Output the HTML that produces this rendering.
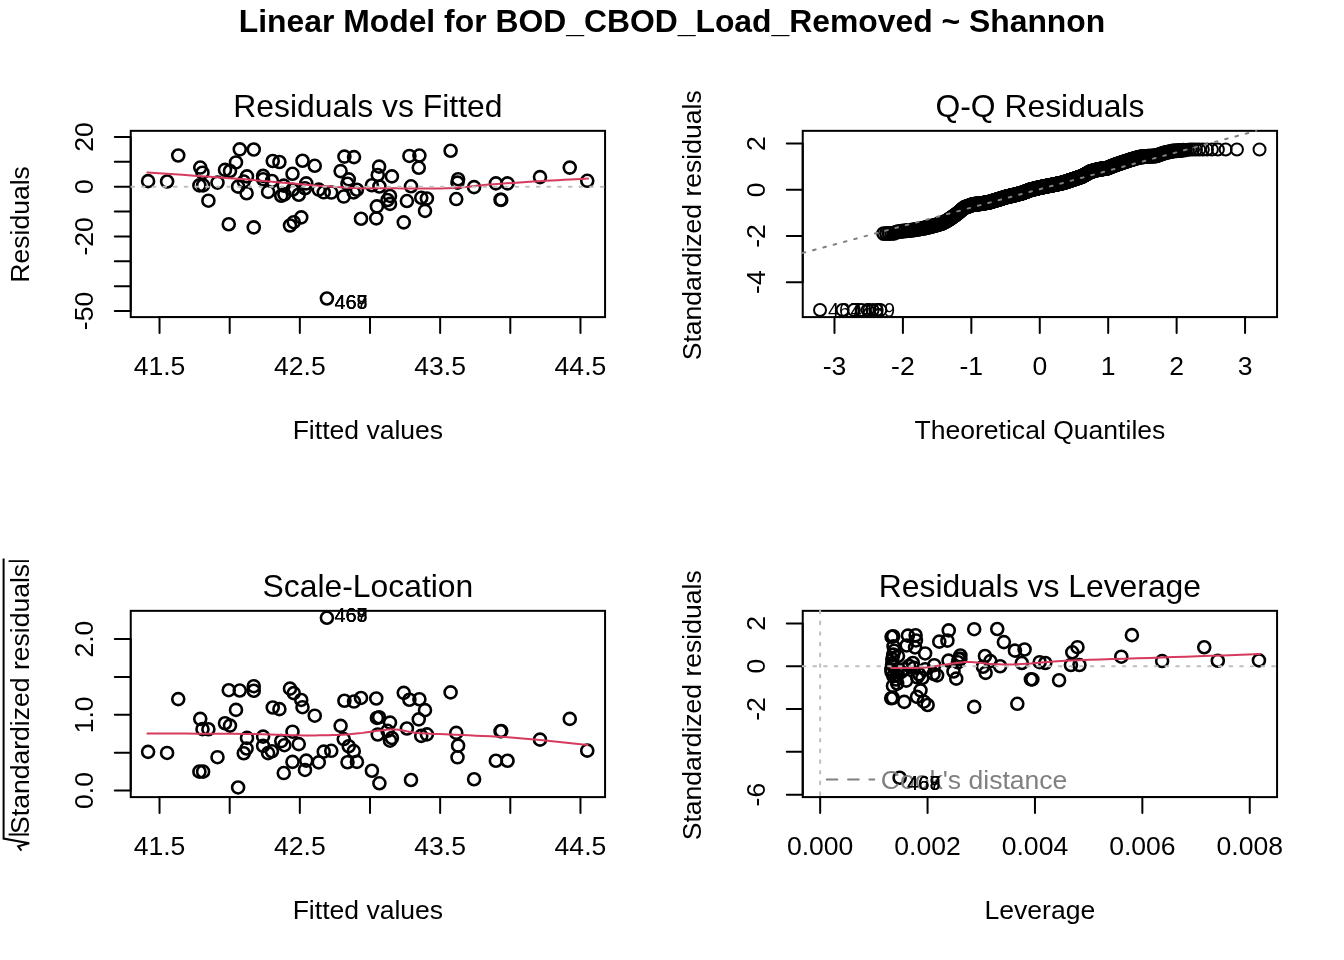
<!DOCTYPE html>
<html><head><meta charset="utf-8"><style>
html,body{margin:0;padding:0;background:#fff;}
svg{display:block;will-change:transform;}
text{font-family:"Liberation Sans",sans-serif;}
.t{font-size:26.56px;}
.m{font-size:31.87px;}
.b{font-size:31.87px;font-weight:bold;}
.s{font-size:19.92px;}
</style></head><body>
<svg width="1344" height="960" viewBox="0 0 1344 960">
<rect width="1344" height="960" fill="#fff"/>
<text x="672" y="32" class="b" text-anchor="middle">Linear Model for BOD_CBOD_Load_Removed ~ Shannon</text>
<rect x="130.74" y="130.84" width="474.32" height="186.26" fill="none" stroke="#000" stroke-width="2"/>
<path d="M159.53 317.1H580.46M159.53 317.1V333.04M229.69 317.1V333.04M299.84 317.1V333.04M370 317.1V333.04M440.15 317.1V333.04M510.3 317.1V333.04M580.46 317.1V333.04M130.74 136.88V311M114.8 136.88H130.74M114.8 161.76H130.74M114.8 186.63H130.74M114.8 211.5H130.74M114.8 236.38H130.74M114.8 261.25H130.74M114.8 286.13H130.74M114.8 311H130.74" fill="none" stroke="#000" stroke-width="2" stroke-linecap="round"/>
<text x="159.53" y="374.8" class="t" text-anchor="middle">41.5</text>
<text x="299.84" y="374.8" class="t" text-anchor="middle">42.5</text>
<text x="440.15" y="374.8" class="t" text-anchor="middle">43.5</text>
<text x="580.46" y="374.8" class="t" text-anchor="middle">44.5</text>
<text transform="translate(92.8,136.88) rotate(-90)" class="t" text-anchor="middle">20</text>
<text transform="translate(92.8,186.63) rotate(-90)" class="t" text-anchor="middle">0</text>
<text transform="translate(92.8,236.38) rotate(-90)" class="t" text-anchor="middle">-20</text>
<text transform="translate(92.8,311) rotate(-90)" class="t" text-anchor="middle">-50</text>
<text x="367.9" y="116.9" class="m" text-anchor="middle">Residuals vs Fitted</text>
<text x="367.9" y="438.8" class="t" text-anchor="middle">Fitted values</text>
<text transform="translate(28.8,224.4) rotate(-90)" class="t" text-anchor="middle">Residuals</text>
<g fill="none" stroke="#000" stroke-width="2.6"><circle cx="148.1" cy="181.16" r="6.0"/><circle cx="167.1" cy="181.47" r="6.0"/><circle cx="178.25" cy="155.53" r="6.0"/><circle cx="200.25" cy="167.56" r="6.0"/><circle cx="202.5" cy="172.68" r="6.0"/><circle cx="199.4" cy="185.4" r="6.0"/><circle cx="203.1" cy="185.39" r="6.0"/><circle cx="217.5" cy="182.59" r="6.0"/><circle cx="208.4" cy="200.68" r="6.0"/><circle cx="225" cy="169.84" r="6.0"/><circle cx="230" cy="171" r="6.0"/><circle cx="236" cy="162.44" r="6.0"/><circle cx="239.75" cy="149.35" r="6.0"/><circle cx="228.75" cy="224.28" r="6.0"/><circle cx="238.1" cy="186.67" r="6.0"/><circle cx="247" cy="176.39" r="6.0"/><circle cx="246.6" cy="193.25" r="6.0"/><circle cx="253.75" cy="149.49" r="6.0"/><circle cx="272.75" cy="160.97" r="6.0"/><circle cx="279.4" cy="161.98" r="6.0"/><circle cx="302.5" cy="160.76" r="6.0"/><circle cx="314.75" cy="165.79" r="6.0"/><circle cx="344.4" cy="156.58" r="6.0"/><circle cx="354" cy="157.12" r="6.0"/><circle cx="340.6" cy="171.11" r="6.0"/><circle cx="348.75" cy="179.42" r="6.0"/><circle cx="347.5" cy="183.74" r="6.0"/><circle cx="292.5" cy="173.8" r="6.0"/><circle cx="243.75" cy="181.54" r="6.0"/><circle cx="263.1" cy="175.87" r="6.0"/><circle cx="263.1" cy="179.28" r="6.0"/><circle cx="271.9" cy="180.97" r="6.0"/><circle cx="268.1" cy="191.89" r="6.0"/><circle cx="283.75" cy="185.58" r="6.0"/><circle cx="281.25" cy="195.79" r="6.0"/><circle cx="284.4" cy="194.34" r="6.0"/><circle cx="292.5" cy="189.73" r="6.0"/><circle cx="298.75" cy="194.72" r="6.0"/><circle cx="306.25" cy="183.39" r="6.0"/><circle cx="305" cy="188.26" r="6.0"/><circle cx="318.75" cy="189.62" r="6.0"/><circle cx="323.75" cy="192.31" r="6.0"/><circle cx="331.25" cy="192.56" r="6.0"/><circle cx="343.75" cy="196.56" r="6.0"/><circle cx="353.75" cy="192.45" r="6.0"/><circle cx="356.9" cy="189.73" r="6.0"/><circle cx="253.75" cy="227.39" r="6.0"/><circle cx="290" cy="225.48" r="6.0"/><circle cx="293.75" cy="222.19" r="6.0"/><circle cx="301.25" cy="217.35" r="6.0"/><circle cx="361" cy="218.74" r="6.0"/><circle cx="379.1" cy="166.67" r="6.0"/><circle cx="377.75" cy="175" r="6.0"/><circle cx="391.9" cy="176.42" r="6.0"/><circle cx="371.9" cy="185.27" r="6.0"/><circle cx="379.4" cy="186.52" r="6.0"/><circle cx="390" cy="195.95" r="6.0"/><circle cx="387.5" cy="200" r="6.0"/><circle cx="390" cy="203.92" r="6.0"/><circle cx="376.9" cy="206.38" r="6.0"/><circle cx="376.25" cy="218.37" r="6.0"/><circle cx="403.75" cy="222.37" r="6.0"/><circle cx="409.4" cy="155.93" r="6.0"/><circle cx="419.4" cy="155.55" r="6.0"/><circle cx="418.75" cy="167.8" r="6.0"/><circle cx="411" cy="186.3" r="6.0"/><circle cx="406.9" cy="201.04" r="6.0"/><circle cx="421.25" cy="197.8" r="6.0"/><circle cx="426.9" cy="198.46" r="6.0"/><circle cx="425" cy="210.83" r="6.0"/><circle cx="450.6" cy="150.72" r="6.0"/><circle cx="458.1" cy="179.21" r="6.0"/><circle cx="457.5" cy="182.62" r="6.0"/><circle cx="456.25" cy="199.06" r="6.0"/><circle cx="474.1" cy="187.16" r="6.0"/><circle cx="495.9" cy="183.42" r="6.0"/><circle cx="507.5" cy="183.42" r="6.0"/><circle cx="501.25" cy="199.88" r="6.0"/><circle cx="500.5" cy="199.75" r="6.0"/><circle cx="540" cy="177.08" r="6.0"/><circle cx="569.75" cy="167.62" r="6.0"/><circle cx="587.25" cy="180.82" r="6.0"/><circle cx="326.9" cy="298.47" r="6.0"/></g>
<polyline points="147.4,172.4 159.09,173.23 170.75,174.04 182.38,174.85 194.03,175.66 205.7,176.48 217.44,177.32 229.26,178.19 241.2,179.1 253.63,180.1 266.68,181.22 280.03,182.39 293.34,183.56 306.26,184.69 318.47,185.73 329.63,186.61 339.4,187.3 347.59,187.77 354.44,188.05 360.25,188.19 365.34,188.24 370.02,188.22 374.58,188.18 379.34,188.16 384.6,188.2 390.31,188.28 396.16,188.37 402.06,188.45 407.92,188.52 413.66,188.57 419.19,188.61 424.43,188.62 429.3,188.6 433.73,188.56 437.78,188.5 441.53,188.42 445.08,188.31 448.51,188.18 451.92,188.02 455.39,187.83 459,187.6 462.58,187.32 465.96,187 469.25,186.64 472.59,186.25 476.1,185.84 479.89,185.43 484.08,185.01 488.8,184.6 494.14,184.19 500.03,183.76 506.34,183.32 512.92,182.88 519.66,182.43 526.4,182 533.03,181.59 539.4,181.2 545.57,180.84 551.69,180.49 557.77,180.17 563.82,179.85 569.86,179.54 575.9,179.23 581.94,178.92 588,178.6" fill="none" stroke="#D63A5C" stroke-width="2.0" stroke-linecap="round" stroke-linejoin="round"/>
<line x1="130.74" y1="186.63" x2="605.06" y2="186.63" stroke="#BEBEBE" stroke-width="2" stroke-linecap="round" stroke-dasharray="2.67 8" stroke-dashoffset="-0.6"/>
<text x="334.4" y="309.4" class="s">467</text>
<text x="334.4" y="309.4" class="s">468</text>
<text x="334.4" y="309.4" class="s">469</text>
<rect x="802.74" y="130.84" width="474.32" height="186.26" fill="none" stroke="#000" stroke-width="2"/>
<path d="M834.48 317.1H1245.06M834.48 317.1V333.04M902.91 317.1V333.04M971.34 317.1V333.04M1039.77 317.1V333.04M1108.2 317.1V333.04M1176.63 317.1V333.04M1245.06 317.1V333.04M802.74 143.56V282.16M786.8 143.56H802.74M786.8 189.76H802.74M786.8 235.96H802.74M786.8 282.16H802.74" fill="none" stroke="#000" stroke-width="2" stroke-linecap="round"/>
<text x="834.48" y="374.8" class="t" text-anchor="middle">-3</text>
<text x="902.91" y="374.8" class="t" text-anchor="middle">-2</text>
<text x="971.34" y="374.8" class="t" text-anchor="middle">-1</text>
<text x="1039.77" y="374.8" class="t" text-anchor="middle">0</text>
<text x="1108.2" y="374.8" class="t" text-anchor="middle">1</text>
<text x="1176.63" y="374.8" class="t" text-anchor="middle">2</text>
<text x="1245.06" y="374.8" class="t" text-anchor="middle">3</text>
<text transform="translate(764.8,143.56) rotate(-90)" class="t" text-anchor="middle">2</text>
<text transform="translate(764.8,189.76) rotate(-90)" class="t" text-anchor="middle">0</text>
<text transform="translate(764.8,235.96) rotate(-90)" class="t" text-anchor="middle">-2</text>
<text transform="translate(764.8,282.16) rotate(-90)" class="t" text-anchor="middle">-4</text>
<text x="1039.9" y="116.9" class="m" text-anchor="middle">Q-Q Residuals</text>
<text x="1039.9" y="438.8" class="t" text-anchor="middle">Theoretical Quantiles</text>
<text transform="translate(700.8,225.3) rotate(-90)" class="t" text-anchor="middle">Standardized residuals</text>
<g fill="none" stroke="#000" stroke-width="2.5"><circle cx="883.58" cy="233.6" r="6.2"/><circle cx="886.5" cy="233.55" r="6.2"/><circle cx="889.16" cy="233.45" r="6.2"/><circle cx="891.61" cy="233.37" r="6.2"/><circle cx="893.89" cy="233.18" r="6.2"/><circle cx="896.02" cy="232.32" r="6.2"/><circle cx="898.02" cy="231.71" r="6.2"/><circle cx="899.9" cy="231.49" r="6.2"/><circle cx="901.68" cy="231.27" r="6.2"/><circle cx="903.37" cy="231.07" r="6.2"/><circle cx="904.99" cy="230.88" r="6.2"/><circle cx="906.53" cy="230.71" r="6.2"/><circle cx="908" cy="230.55" r="6.2"/><circle cx="909.42" cy="230.4" r="6.2"/><circle cx="910.79" cy="230.25" r="6.2"/><circle cx="912.1" cy="230.11" r="6.2"/><circle cx="913.37" cy="229.91" r="6.2"/><circle cx="914.6" cy="229.71" r="6.2"/><circle cx="915.79" cy="229.52" r="6.2"/><circle cx="916.94" cy="229.33" r="6.2"/><circle cx="918.06" cy="229.15" r="6.2"/><circle cx="919.14" cy="228.97" r="6.2"/><circle cx="920.2" cy="228.79" r="6.2"/><circle cx="921.23" cy="228.6" r="6.2"/><circle cx="922.23" cy="228.41" r="6.2"/><circle cx="923.21" cy="228.23" r="6.2"/><circle cx="924.17" cy="228.05" r="6.2"/><circle cx="925.1" cy="227.87" r="6.2"/><circle cx="926.01" cy="227.7" r="6.2"/><circle cx="926.9" cy="227.54" r="6.2"/><circle cx="927.78" cy="227.32" r="6.2"/><circle cx="928.63" cy="227.09" r="6.2"/><circle cx="929.47" cy="226.86" r="6.2"/><circle cx="930.3" cy="226.64" r="6.2"/><circle cx="931.1" cy="226.42" r="6.2"/><circle cx="931.9" cy="226.2" r="6.2"/><circle cx="932.67" cy="225.99" r="6.2"/><circle cx="933.44" cy="225.79" r="6.2"/><circle cx="934.19" cy="225.58" r="6.2"/><circle cx="934.93" cy="225.37" r="6.2"/><circle cx="935.65" cy="225.16" r="6.2"/><circle cx="936.37" cy="224.95" r="6.2"/><circle cx="937.07" cy="224.74" r="6.2"/><circle cx="937.77" cy="224.54" r="6.2"/><circle cx="938.45" cy="224.34" r="6.2"/><circle cx="939.12" cy="224.14" r="6.2"/><circle cx="939.79" cy="223.95" r="6.2"/><circle cx="940.44" cy="223.76" r="6.2"/><circle cx="941.09" cy="223.57" r="6.2"/><circle cx="941.72" cy="223.38" r="6.2"/><circle cx="942.35" cy="223.12" r="6.2"/><circle cx="942.97" cy="222.79" r="6.2"/><circle cx="943.58" cy="222.47" r="6.2"/><circle cx="944.19" cy="222.16" r="6.2"/><circle cx="944.79" cy="221.84" r="6.2"/><circle cx="945.38" cy="221.53" r="6.2"/><circle cx="945.96" cy="221.23" r="6.2"/><circle cx="946.54" cy="220.92" r="6.2"/><circle cx="947.11" cy="220.58" r="6.2"/><circle cx="947.67" cy="220.24" r="6.2"/><circle cx="948.23" cy="219.9" r="6.2"/><circle cx="948.78" cy="219.57" r="6.2"/><circle cx="949.32" cy="219.25" r="6.2"/><circle cx="949.86" cy="218.87" r="6.2"/><circle cx="950.4" cy="218.5" r="6.2"/><circle cx="950.93" cy="218.13" r="6.2"/><circle cx="951.45" cy="217.76" r="6.2"/><circle cx="951.97" cy="217.39" r="6.2"/><circle cx="952.48" cy="217.03" r="6.2"/><circle cx="952.99" cy="216.68" r="6.2"/><circle cx="953.5" cy="216.32" r="6.2"/><circle cx="954" cy="215.97" r="6.2"/><circle cx="954.49" cy="215.62" r="6.2"/><circle cx="954.98" cy="215.28" r="6.2"/><circle cx="955.47" cy="214.94" r="6.2"/><circle cx="955.95" cy="214.6" r="6.2"/><circle cx="956.43" cy="214.26" r="6.2"/><circle cx="956.9" cy="213.91" r="6.2"/><circle cx="957.37" cy="213.51" r="6.2"/><circle cx="957.84" cy="213.12" r="6.2"/><circle cx="958.3" cy="212.72" r="6.2"/><circle cx="958.76" cy="212.33" r="6.2"/><circle cx="959.21" cy="211.94" r="6.2"/><circle cx="959.66" cy="211.56" r="6.2"/><circle cx="960.11" cy="211.17" r="6.2"/><circle cx="960.56" cy="210.8" r="6.2"/><circle cx="961" cy="210.42" r="6.2"/><circle cx="961.43" cy="210.05" r="6.2"/><circle cx="961.87" cy="209.67" r="6.2"/><circle cx="962.3" cy="209.31" r="6.2"/><circle cx="962.73" cy="208.94" r="6.2"/><circle cx="963.16" cy="208.58" r="6.2"/><circle cx="963.58" cy="208.22" r="6.2"/><circle cx="964" cy="207.86" r="6.2"/><circle cx="964.41" cy="207.56" r="6.2"/><circle cx="964.83" cy="207.41" r="6.2"/><circle cx="965.24" cy="207.26" r="6.2"/><circle cx="965.65" cy="207.12" r="6.2"/><circle cx="966.05" cy="206.97" r="6.2"/><circle cx="966.46" cy="206.82" r="6.2"/><circle cx="966.86" cy="206.68" r="6.2"/><circle cx="967.26" cy="206.54" r="6.2"/><circle cx="967.65" cy="206.39" r="6.2"/><circle cx="968.05" cy="206.25" r="6.2"/><circle cx="968.44" cy="206.11" r="6.2"/><circle cx="968.83" cy="205.97" r="6.2"/><circle cx="969.21" cy="205.83" r="6.2"/><circle cx="969.6" cy="205.69" r="6.2"/><circle cx="969.98" cy="205.56" r="6.2"/><circle cx="970.36" cy="205.42" r="6.2"/><circle cx="970.74" cy="205.28" r="6.2"/><circle cx="971.11" cy="205.15" r="6.2"/><circle cx="971.49" cy="205.02" r="6.2"/><circle cx="971.86" cy="204.88" r="6.2"/><circle cx="972.23" cy="204.75" r="6.2"/><circle cx="972.6" cy="204.62" r="6.2"/><circle cx="972.96" cy="204.48" r="6.2"/><circle cx="973.33" cy="204.39" r="6.2"/><circle cx="973.69" cy="204.35" r="6.2"/><circle cx="974.05" cy="204.32" r="6.2"/><circle cx="974.41" cy="204.28" r="6.2"/><circle cx="974.77" cy="204.25" r="6.2"/><circle cx="975.12" cy="204.21" r="6.2"/><circle cx="975.47" cy="204.18" r="6.2"/><circle cx="975.82" cy="204.14" r="6.2"/><circle cx="976.17" cy="204.11" r="6.2"/><circle cx="976.52" cy="204.08" r="6.2"/><circle cx="976.87" cy="204.04" r="6.2"/><circle cx="977.21" cy="204.01" r="6.2"/><circle cx="977.56" cy="203.97" r="6.2"/><circle cx="977.9" cy="203.94" r="6.2"/><circle cx="978.24" cy="203.91" r="6.2"/><circle cx="978.58" cy="203.88" r="6.2"/><circle cx="978.92" cy="203.84" r="6.2"/><circle cx="979.25" cy="203.81" r="6.2"/><circle cx="979.59" cy="203.78" r="6.2"/><circle cx="979.92" cy="203.74" r="6.2"/><circle cx="980.25" cy="203.71" r="6.2"/><circle cx="980.58" cy="203.68" r="6.2"/><circle cx="980.91" cy="203.65" r="6.2"/><circle cx="981.24" cy="203.62" r="6.2"/><circle cx="981.56" cy="203.57" r="6.2"/><circle cx="981.89" cy="203.51" r="6.2"/><circle cx="982.21" cy="203.45" r="6.2"/><circle cx="982.53" cy="203.39" r="6.2"/><circle cx="982.85" cy="203.33" r="6.2"/><circle cx="983.17" cy="203.27" r="6.2"/><circle cx="983.49" cy="203.21" r="6.2"/><circle cx="983.81" cy="203.15" r="6.2"/><circle cx="984.12" cy="203.1" r="6.2"/><circle cx="984.44" cy="203.04" r="6.2"/><circle cx="984.75" cy="202.98" r="6.2"/><circle cx="985.07" cy="202.92" r="6.2"/><circle cx="985.38" cy="202.86" r="6.2"/><circle cx="985.69" cy="202.81" r="6.2"/><circle cx="986" cy="202.75" r="6.2"/><circle cx="986.3" cy="202.69" r="6.2"/><circle cx="986.61" cy="202.64" r="6.2"/><circle cx="986.92" cy="202.58" r="6.2"/><circle cx="987.22" cy="202.52" r="6.2"/><circle cx="987.53" cy="202.47" r="6.2"/><circle cx="987.83" cy="202.41" r="6.2"/><circle cx="988.13" cy="202.35" r="6.2"/><circle cx="988.43" cy="202.3" r="6.2"/><circle cx="988.73" cy="202.24" r="6.2"/><circle cx="989.03" cy="202.19" r="6.2"/><circle cx="989.33" cy="202.13" r="6.2"/><circle cx="989.62" cy="202.06" r="6.2"/><circle cx="989.92" cy="201.97" r="6.2"/><circle cx="990.21" cy="201.88" r="6.2"/><circle cx="990.51" cy="201.79" r="6.2"/><circle cx="990.8" cy="201.7" r="6.2"/><circle cx="991.09" cy="201.61" r="6.2"/><circle cx="991.39" cy="201.53" r="6.2"/><circle cx="991.68" cy="201.44" r="6.2"/><circle cx="991.97" cy="201.35" r="6.2"/><circle cx="992.25" cy="201.26" r="6.2"/><circle cx="992.54" cy="201.17" r="6.2"/><circle cx="992.83" cy="201.08" r="6.2"/><circle cx="993.12" cy="201" r="6.2"/><circle cx="993.4" cy="200.91" r="6.2"/><circle cx="993.69" cy="200.82" r="6.2"/><circle cx="993.97" cy="200.74" r="6.2"/><circle cx="994.25" cy="200.65" r="6.2"/><circle cx="994.54" cy="200.56" r="6.2"/><circle cx="994.82" cy="200.48" r="6.2"/><circle cx="995.1" cy="200.39" r="6.2"/><circle cx="995.38" cy="200.31" r="6.2"/><circle cx="995.66" cy="200.22" r="6.2"/><circle cx="995.94" cy="200.14" r="6.2"/><circle cx="996.21" cy="200.05" r="6.2"/><circle cx="996.49" cy="199.97" r="6.2"/><circle cx="996.77" cy="199.88" r="6.2"/><circle cx="997.04" cy="199.8" r="6.2"/><circle cx="997.32" cy="199.72" r="6.2"/><circle cx="997.59" cy="199.63" r="6.2"/><circle cx="997.87" cy="199.55" r="6.2"/><circle cx="998.14" cy="199.46" r="6.2"/><circle cx="998.41" cy="199.37" r="6.2"/><circle cx="998.68" cy="199.29" r="6.2"/><circle cx="998.95" cy="199.2" r="6.2"/><circle cx="999.22" cy="199.12" r="6.2"/><circle cx="999.49" cy="199.03" r="6.2"/><circle cx="999.76" cy="198.95" r="6.2"/><circle cx="1000.03" cy="198.86" r="6.2"/><circle cx="1000.3" cy="198.78" r="6.2"/><circle cx="1000.57" cy="198.69" r="6.2"/><circle cx="1000.83" cy="198.61" r="6.2"/><circle cx="1001.1" cy="198.52" r="6.2"/><circle cx="1001.36" cy="198.44" r="6.2"/><circle cx="1001.63" cy="198.35" r="6.2"/><circle cx="1001.89" cy="198.27" r="6.2"/><circle cx="1002.16" cy="198.19" r="6.2"/><circle cx="1002.42" cy="198.1" r="6.2"/><circle cx="1002.68" cy="198.02" r="6.2"/><circle cx="1002.95" cy="197.94" r="6.2"/><circle cx="1003.21" cy="197.85" r="6.2"/><circle cx="1003.47" cy="197.77" r="6.2"/><circle cx="1003.73" cy="197.69" r="6.2"/><circle cx="1003.99" cy="197.61" r="6.2"/><circle cx="1004.25" cy="197.52" r="6.2"/><circle cx="1004.51" cy="197.44" r="6.2"/><circle cx="1004.77" cy="197.36" r="6.2"/><circle cx="1005.02" cy="197.28" r="6.2"/><circle cx="1005.28" cy="197.2" r="6.2"/><circle cx="1005.54" cy="197.11" r="6.2"/><circle cx="1005.8" cy="197.03" r="6.2"/><circle cx="1006.05" cy="196.96" r="6.2"/><circle cx="1006.31" cy="196.91" r="6.2"/><circle cx="1006.56" cy="196.85" r="6.2"/><circle cx="1006.82" cy="196.79" r="6.2"/><circle cx="1007.07" cy="196.73" r="6.2"/><circle cx="1007.32" cy="196.67" r="6.2"/><circle cx="1007.58" cy="196.61" r="6.2"/><circle cx="1007.83" cy="196.55" r="6.2"/><circle cx="1008.08" cy="196.49" r="6.2"/><circle cx="1008.34" cy="196.44" r="6.2"/><circle cx="1008.59" cy="196.38" r="6.2"/><circle cx="1008.84" cy="196.32" r="6.2"/><circle cx="1009.09" cy="196.26" r="6.2"/><circle cx="1009.34" cy="196.2" r="6.2"/><circle cx="1009.59" cy="196.15" r="6.2"/><circle cx="1009.84" cy="196.09" r="6.2"/><circle cx="1010.09" cy="196.03" r="6.2"/><circle cx="1010.34" cy="195.97" r="6.2"/><circle cx="1010.59" cy="195.91" r="6.2"/><circle cx="1010.83" cy="195.86" r="6.2"/><circle cx="1011.08" cy="195.8" r="6.2"/><circle cx="1011.33" cy="195.74" r="6.2"/><circle cx="1011.57" cy="195.69" r="6.2"/><circle cx="1011.82" cy="195.63" r="6.2"/><circle cx="1012.07" cy="195.57" r="6.2"/><circle cx="1012.31" cy="195.51" r="6.2"/><circle cx="1012.56" cy="195.46" r="6.2"/><circle cx="1012.8" cy="195.4" r="6.2"/><circle cx="1013.05" cy="195.34" r="6.2"/><circle cx="1013.29" cy="195.29" r="6.2"/><circle cx="1013.54" cy="195.23" r="6.2"/><circle cx="1013.78" cy="195.17" r="6.2"/><circle cx="1014.02" cy="195.12" r="6.2"/><circle cx="1014.27" cy="195.06" r="6.2"/><circle cx="1014.51" cy="194.99" r="6.2"/><circle cx="1014.75" cy="194.93" r="6.2"/><circle cx="1014.99" cy="194.86" r="6.2"/><circle cx="1015.24" cy="194.8" r="6.2"/><circle cx="1015.48" cy="194.73" r="6.2"/><circle cx="1015.72" cy="194.67" r="6.2"/><circle cx="1015.96" cy="194.6" r="6.2"/><circle cx="1016.2" cy="194.54" r="6.2"/><circle cx="1016.44" cy="194.47" r="6.2"/><circle cx="1016.68" cy="194.41" r="6.2"/><circle cx="1016.92" cy="194.34" r="6.2"/><circle cx="1017.16" cy="194.28" r="6.2"/><circle cx="1017.4" cy="194.22" r="6.2"/><circle cx="1017.64" cy="194.15" r="6.2"/><circle cx="1017.88" cy="194.09" r="6.2"/><circle cx="1018.11" cy="194.02" r="6.2"/><circle cx="1018.35" cy="193.96" r="6.2"/><circle cx="1018.59" cy="193.9" r="6.2"/><circle cx="1018.83" cy="193.83" r="6.2"/><circle cx="1019.07" cy="193.77" r="6.2"/><circle cx="1019.3" cy="193.7" r="6.2"/><circle cx="1019.54" cy="193.64" r="6.2"/><circle cx="1019.78" cy="193.58" r="6.2"/><circle cx="1020.01" cy="193.51" r="6.2"/><circle cx="1020.25" cy="193.45" r="6.2"/><circle cx="1020.48" cy="193.39" r="6.2"/><circle cx="1020.72" cy="193.32" r="6.2"/><circle cx="1020.96" cy="193.26" r="6.2"/><circle cx="1021.19" cy="193.2" r="6.2"/><circle cx="1021.43" cy="193.13" r="6.2"/><circle cx="1021.66" cy="193.07" r="6.2"/><circle cx="1021.89" cy="193.01" r="6.2"/><circle cx="1022.13" cy="192.95" r="6.2"/><circle cx="1022.36" cy="192.88" r="6.2"/><circle cx="1022.6" cy="192.79" r="6.2"/><circle cx="1022.83" cy="192.7" r="6.2"/><circle cx="1023.06" cy="192.61" r="6.2"/><circle cx="1023.3" cy="192.52" r="6.2"/><circle cx="1023.53" cy="192.43" r="6.2"/><circle cx="1023.76" cy="192.35" r="6.2"/><circle cx="1024" cy="192.26" r="6.2"/><circle cx="1024.23" cy="192.17" r="6.2"/><circle cx="1024.46" cy="192.08" r="6.2"/><circle cx="1024.69" cy="191.99" r="6.2"/><circle cx="1024.93" cy="191.91" r="6.2"/><circle cx="1025.16" cy="191.82" r="6.2"/><circle cx="1025.39" cy="191.73" r="6.2"/><circle cx="1025.62" cy="191.64" r="6.2"/><circle cx="1025.85" cy="191.56" r="6.2"/><circle cx="1026.08" cy="191.47" r="6.2"/><circle cx="1026.31" cy="191.38" r="6.2"/><circle cx="1026.55" cy="191.29" r="6.2"/><circle cx="1026.78" cy="191.21" r="6.2"/><circle cx="1027.01" cy="191.12" r="6.2"/><circle cx="1027.24" cy="191.03" r="6.2"/><circle cx="1027.47" cy="190.95" r="6.2"/><circle cx="1027.7" cy="190.86" r="6.2"/><circle cx="1027.93" cy="190.77" r="6.2"/><circle cx="1028.16" cy="190.69" r="6.2"/><circle cx="1028.39" cy="190.6" r="6.2"/><circle cx="1028.62" cy="190.51" r="6.2"/><circle cx="1028.85" cy="190.42" r="6.2"/><circle cx="1029.08" cy="190.34" r="6.2"/><circle cx="1029.31" cy="190.25" r="6.2"/><circle cx="1029.54" cy="190.16" r="6.2"/><circle cx="1029.76" cy="190.08" r="6.2"/><circle cx="1029.99" cy="189.99" r="6.2"/><circle cx="1030.22" cy="189.9" r="6.2"/><circle cx="1030.45" cy="189.82" r="6.2"/><circle cx="1030.68" cy="189.76" r="6.2"/><circle cx="1030.91" cy="189.7" r="6.2"/><circle cx="1031.14" cy="189.64" r="6.2"/><circle cx="1031.37" cy="189.59" r="6.2"/><circle cx="1031.59" cy="189.53" r="6.2"/><circle cx="1031.82" cy="189.47" r="6.2"/><circle cx="1032.05" cy="189.42" r="6.2"/><circle cx="1032.28" cy="189.36" r="6.2"/><circle cx="1032.51" cy="189.3" r="6.2"/><circle cx="1032.73" cy="189.25" r="6.2"/><circle cx="1032.96" cy="189.19" r="6.2"/><circle cx="1033.19" cy="189.14" r="6.2"/><circle cx="1033.42" cy="189.08" r="6.2"/><circle cx="1033.64" cy="189.02" r="6.2"/><circle cx="1033.87" cy="188.97" r="6.2"/><circle cx="1034.1" cy="188.91" r="6.2"/><circle cx="1034.33" cy="188.86" r="6.2"/><circle cx="1034.55" cy="188.8" r="6.2"/><circle cx="1034.78" cy="188.74" r="6.2"/><circle cx="1035.01" cy="188.69" r="6.2"/><circle cx="1035.23" cy="188.63" r="6.2"/><circle cx="1035.46" cy="188.57" r="6.2"/><circle cx="1035.69" cy="188.52" r="6.2"/><circle cx="1035.92" cy="188.46" r="6.2"/><circle cx="1036.14" cy="188.41" r="6.2"/><circle cx="1036.37" cy="188.35" r="6.2"/><circle cx="1036.6" cy="188.29" r="6.2"/><circle cx="1036.82" cy="188.24" r="6.2"/><circle cx="1037.05" cy="188.18" r="6.2"/><circle cx="1037.28" cy="188.13" r="6.2"/><circle cx="1037.5" cy="188.07" r="6.2"/><circle cx="1037.73" cy="188.01" r="6.2"/><circle cx="1037.96" cy="187.96" r="6.2"/><circle cx="1038.18" cy="187.9" r="6.2"/><circle cx="1038.41" cy="187.85" r="6.2"/><circle cx="1038.64" cy="187.79" r="6.2"/><circle cx="1038.86" cy="187.75" r="6.2"/><circle cx="1039.09" cy="187.7" r="6.2"/><circle cx="1039.32" cy="187.65" r="6.2"/><circle cx="1039.54" cy="187.6" r="6.2"/><circle cx="1039.77" cy="187.56" r="6.2"/><circle cx="1040" cy="187.51" r="6.2"/><circle cx="1040.22" cy="187.46" r="6.2"/><circle cx="1040.45" cy="187.42" r="6.2"/><circle cx="1040.68" cy="187.37" r="6.2"/><circle cx="1040.9" cy="187.32" r="6.2"/><circle cx="1041.13" cy="187.28" r="6.2"/><circle cx="1041.36" cy="187.23" r="6.2"/><circle cx="1041.58" cy="187.18" r="6.2"/><circle cx="1041.81" cy="187.13" r="6.2"/><circle cx="1042.04" cy="187.09" r="6.2"/><circle cx="1042.26" cy="187.04" r="6.2"/><circle cx="1042.49" cy="186.99" r="6.2"/><circle cx="1042.72" cy="186.95" r="6.2"/><circle cx="1042.94" cy="186.9" r="6.2"/><circle cx="1043.17" cy="186.85" r="6.2"/><circle cx="1043.4" cy="186.81" r="6.2"/><circle cx="1043.62" cy="186.76" r="6.2"/><circle cx="1043.85" cy="186.71" r="6.2"/><circle cx="1044.08" cy="186.66" r="6.2"/><circle cx="1044.31" cy="186.62" r="6.2"/><circle cx="1044.53" cy="186.57" r="6.2"/><circle cx="1044.76" cy="186.52" r="6.2"/><circle cx="1044.99" cy="186.48" r="6.2"/><circle cx="1045.21" cy="186.43" r="6.2"/><circle cx="1045.44" cy="186.38" r="6.2"/><circle cx="1045.67" cy="186.33" r="6.2"/><circle cx="1045.9" cy="186.29" r="6.2"/><circle cx="1046.12" cy="186.24" r="6.2"/><circle cx="1046.35" cy="186.19" r="6.2"/><circle cx="1046.58" cy="186.15" r="6.2"/><circle cx="1046.81" cy="186.1" r="6.2"/><circle cx="1047.03" cy="186.05" r="6.2"/><circle cx="1047.26" cy="186.01" r="6.2"/><circle cx="1047.49" cy="185.97" r="6.2"/><circle cx="1047.72" cy="185.92" r="6.2"/><circle cx="1047.95" cy="185.88" r="6.2"/><circle cx="1048.17" cy="185.83" r="6.2"/><circle cx="1048.4" cy="185.79" r="6.2"/><circle cx="1048.63" cy="185.74" r="6.2"/><circle cx="1048.86" cy="185.7" r="6.2"/><circle cx="1049.09" cy="185.65" r="6.2"/><circle cx="1049.32" cy="185.61" r="6.2"/><circle cx="1049.55" cy="185.56" r="6.2"/><circle cx="1049.78" cy="185.52" r="6.2"/><circle cx="1050" cy="185.47" r="6.2"/><circle cx="1050.23" cy="185.43" r="6.2"/><circle cx="1050.46" cy="185.39" r="6.2"/><circle cx="1050.69" cy="185.34" r="6.2"/><circle cx="1050.92" cy="185.3" r="6.2"/><circle cx="1051.15" cy="185.25" r="6.2"/><circle cx="1051.38" cy="185.21" r="6.2"/><circle cx="1051.61" cy="185.16" r="6.2"/><circle cx="1051.84" cy="185.12" r="6.2"/><circle cx="1052.07" cy="185.07" r="6.2"/><circle cx="1052.3" cy="185.03" r="6.2"/><circle cx="1052.53" cy="184.98" r="6.2"/><circle cx="1052.76" cy="184.94" r="6.2"/><circle cx="1052.99" cy="184.89" r="6.2"/><circle cx="1053.23" cy="184.85" r="6.2"/><circle cx="1053.46" cy="184.8" r="6.2"/><circle cx="1053.69" cy="184.76" r="6.2"/><circle cx="1053.92" cy="184.71" r="6.2"/><circle cx="1054.15" cy="184.67" r="6.2"/><circle cx="1054.38" cy="184.62" r="6.2"/><circle cx="1054.61" cy="184.58" r="6.2"/><circle cx="1054.85" cy="184.53" r="6.2"/><circle cx="1055.08" cy="184.48" r="6.2"/><circle cx="1055.31" cy="184.43" r="6.2"/><circle cx="1055.54" cy="184.38" r="6.2"/><circle cx="1055.78" cy="184.33" r="6.2"/><circle cx="1056.01" cy="184.28" r="6.2"/><circle cx="1056.24" cy="184.23" r="6.2"/><circle cx="1056.48" cy="184.18" r="6.2"/><circle cx="1056.71" cy="184.12" r="6.2"/><circle cx="1056.94" cy="184.07" r="6.2"/><circle cx="1057.18" cy="184.02" r="6.2"/><circle cx="1057.41" cy="183.97" r="6.2"/><circle cx="1057.65" cy="183.92" r="6.2"/><circle cx="1057.88" cy="183.87" r="6.2"/><circle cx="1058.11" cy="183.82" r="6.2"/><circle cx="1058.35" cy="183.76" r="6.2"/><circle cx="1058.58" cy="183.71" r="6.2"/><circle cx="1058.82" cy="183.66" r="6.2"/><circle cx="1059.06" cy="183.61" r="6.2"/><circle cx="1059.29" cy="183.56" r="6.2"/><circle cx="1059.53" cy="183.51" r="6.2"/><circle cx="1059.76" cy="183.45" r="6.2"/><circle cx="1060" cy="183.4" r="6.2"/><circle cx="1060.24" cy="183.35" r="6.2"/><circle cx="1060.47" cy="183.3" r="6.2"/><circle cx="1060.71" cy="183.25" r="6.2"/><circle cx="1060.95" cy="183.19" r="6.2"/><circle cx="1061.19" cy="183.14" r="6.2"/><circle cx="1061.43" cy="183.09" r="6.2"/><circle cx="1061.66" cy="183.04" r="6.2"/><circle cx="1061.9" cy="182.98" r="6.2"/><circle cx="1062.14" cy="182.93" r="6.2"/><circle cx="1062.38" cy="182.88" r="6.2"/><circle cx="1062.62" cy="182.83" r="6.2"/><circle cx="1062.86" cy="182.77" r="6.2"/><circle cx="1063.1" cy="182.72" r="6.2"/><circle cx="1063.34" cy="182.65" r="6.2"/><circle cx="1063.58" cy="182.57" r="6.2"/><circle cx="1063.82" cy="182.5" r="6.2"/><circle cx="1064.06" cy="182.42" r="6.2"/><circle cx="1064.3" cy="182.34" r="6.2"/><circle cx="1064.55" cy="182.26" r="6.2"/><circle cx="1064.79" cy="182.18" r="6.2"/><circle cx="1065.03" cy="182.1" r="6.2"/><circle cx="1065.27" cy="182.02" r="6.2"/><circle cx="1065.52" cy="181.94" r="6.2"/><circle cx="1065.76" cy="181.86" r="6.2"/><circle cx="1066" cy="181.78" r="6.2"/><circle cx="1066.25" cy="181.7" r="6.2"/><circle cx="1066.49" cy="181.62" r="6.2"/><circle cx="1066.74" cy="181.54" r="6.2"/><circle cx="1066.98" cy="181.45" r="6.2"/><circle cx="1067.23" cy="181.37" r="6.2"/><circle cx="1067.47" cy="181.29" r="6.2"/><circle cx="1067.72" cy="181.21" r="6.2"/><circle cx="1067.97" cy="181.13" r="6.2"/><circle cx="1068.21" cy="181.05" r="6.2"/><circle cx="1068.46" cy="180.97" r="6.2"/><circle cx="1068.71" cy="180.89" r="6.2"/><circle cx="1068.95" cy="180.81" r="6.2"/><circle cx="1069.2" cy="180.72" r="6.2"/><circle cx="1069.45" cy="180.64" r="6.2"/><circle cx="1069.7" cy="180.56" r="6.2"/><circle cx="1069.95" cy="180.48" r="6.2"/><circle cx="1070.2" cy="180.39" r="6.2"/><circle cx="1070.45" cy="180.31" r="6.2"/><circle cx="1070.7" cy="180.23" r="6.2"/><circle cx="1070.95" cy="180.15" r="6.2"/><circle cx="1071.2" cy="180.06" r="6.2"/><circle cx="1071.46" cy="179.98" r="6.2"/><circle cx="1071.71" cy="179.9" r="6.2"/><circle cx="1071.96" cy="179.81" r="6.2"/><circle cx="1072.22" cy="179.72" r="6.2"/><circle cx="1072.47" cy="179.64" r="6.2"/><circle cx="1072.72" cy="179.55" r="6.2"/><circle cx="1072.98" cy="179.46" r="6.2"/><circle cx="1073.23" cy="179.38" r="6.2"/><circle cx="1073.49" cy="179.29" r="6.2"/><circle cx="1073.74" cy="179.2" r="6.2"/><circle cx="1074" cy="179.12" r="6.2"/><circle cx="1074.26" cy="179.03" r="6.2"/><circle cx="1074.52" cy="178.94" r="6.2"/><circle cx="1074.77" cy="178.85" r="6.2"/><circle cx="1075.03" cy="178.77" r="6.2"/><circle cx="1075.29" cy="178.68" r="6.2"/><circle cx="1075.55" cy="178.59" r="6.2"/><circle cx="1075.81" cy="178.5" r="6.2"/><circle cx="1076.07" cy="178.41" r="6.2"/><circle cx="1076.33" cy="178.33" r="6.2"/><circle cx="1076.59" cy="178.24" r="6.2"/><circle cx="1076.86" cy="178.15" r="6.2"/><circle cx="1077.12" cy="178.06" r="6.2"/><circle cx="1077.38" cy="177.97" r="6.2"/><circle cx="1077.65" cy="177.88" r="6.2"/><circle cx="1077.91" cy="177.79" r="6.2"/><circle cx="1078.18" cy="177.7" r="6.2"/><circle cx="1078.44" cy="177.61" r="6.2"/><circle cx="1078.71" cy="177.52" r="6.2"/><circle cx="1078.97" cy="177.43" r="6.2"/><circle cx="1079.24" cy="177.34" r="6.2"/><circle cx="1079.51" cy="177.25" r="6.2"/><circle cx="1079.78" cy="177.16" r="6.2"/><circle cx="1080.05" cy="177.06" r="6.2"/><circle cx="1080.32" cy="176.97" r="6.2"/><circle cx="1080.59" cy="176.88" r="6.2"/><circle cx="1080.86" cy="176.79" r="6.2"/><circle cx="1081.13" cy="176.7" r="6.2"/><circle cx="1081.4" cy="176.6" r="6.2"/><circle cx="1081.67" cy="176.51" r="6.2"/><circle cx="1081.95" cy="176.42" r="6.2"/><circle cx="1082.22" cy="176.33" r="6.2"/><circle cx="1082.5" cy="176.19" r="6.2"/><circle cx="1082.77" cy="176.03" r="6.2"/><circle cx="1083.05" cy="175.87" r="6.2"/><circle cx="1083.33" cy="175.71" r="6.2"/><circle cx="1083.6" cy="175.55" r="6.2"/><circle cx="1083.88" cy="175.39" r="6.2"/><circle cx="1084.16" cy="175.23" r="6.2"/><circle cx="1084.44" cy="175.07" r="6.2"/><circle cx="1084.72" cy="174.91" r="6.2"/><circle cx="1085" cy="174.75" r="6.2"/><circle cx="1085.29" cy="174.59" r="6.2"/><circle cx="1085.57" cy="174.43" r="6.2"/><circle cx="1085.85" cy="174.26" r="6.2"/><circle cx="1086.14" cy="174.1" r="6.2"/><circle cx="1086.42" cy="173.94" r="6.2"/><circle cx="1086.71" cy="173.77" r="6.2"/><circle cx="1087" cy="173.61" r="6.2"/><circle cx="1087.29" cy="173.44" r="6.2"/><circle cx="1087.57" cy="173.28" r="6.2"/><circle cx="1087.86" cy="173.11" r="6.2"/><circle cx="1088.15" cy="172.94" r="6.2"/><circle cx="1088.45" cy="172.78" r="6.2"/><circle cx="1088.74" cy="172.61" r="6.2"/><circle cx="1089.03" cy="172.44" r="6.2"/><circle cx="1089.33" cy="172.27" r="6.2"/><circle cx="1089.62" cy="172.1" r="6.2"/><circle cx="1089.92" cy="171.93" r="6.2"/><circle cx="1090.21" cy="171.76" r="6.2"/><circle cx="1090.51" cy="171.6" r="6.2"/><circle cx="1090.81" cy="171.52" r="6.2"/><circle cx="1091.11" cy="171.43" r="6.2"/><circle cx="1091.41" cy="171.35" r="6.2"/><circle cx="1091.71" cy="171.27" r="6.2"/><circle cx="1092.01" cy="171.19" r="6.2"/><circle cx="1092.32" cy="171.11" r="6.2"/><circle cx="1092.62" cy="171.02" r="6.2"/><circle cx="1092.93" cy="170.94" r="6.2"/><circle cx="1093.24" cy="170.86" r="6.2"/><circle cx="1093.54" cy="170.77" r="6.2"/><circle cx="1093.85" cy="170.69" r="6.2"/><circle cx="1094.16" cy="170.6" r="6.2"/><circle cx="1094.47" cy="170.52" r="6.2"/><circle cx="1094.79" cy="170.44" r="6.2"/><circle cx="1095.1" cy="170.35" r="6.2"/><circle cx="1095.42" cy="170.26" r="6.2"/><circle cx="1095.73" cy="170.18" r="6.2"/><circle cx="1096.05" cy="170.09" r="6.2"/><circle cx="1096.37" cy="170.01" r="6.2"/><circle cx="1096.69" cy="169.92" r="6.2"/><circle cx="1097.01" cy="169.83" r="6.2"/><circle cx="1097.33" cy="169.74" r="6.2"/><circle cx="1097.65" cy="169.66" r="6.2"/><circle cx="1097.98" cy="169.57" r="6.2"/><circle cx="1098.3" cy="169.48" r="6.2"/><circle cx="1098.63" cy="169.4" r="6.2"/><circle cx="1098.96" cy="169.35" r="6.2"/><circle cx="1099.29" cy="169.31" r="6.2"/><circle cx="1099.62" cy="169.26" r="6.2"/><circle cx="1099.95" cy="169.22" r="6.2"/><circle cx="1100.29" cy="169.17" r="6.2"/><circle cx="1100.62" cy="169.13" r="6.2"/><circle cx="1100.96" cy="169.08" r="6.2"/><circle cx="1101.3" cy="169.04" r="6.2"/><circle cx="1101.64" cy="168.99" r="6.2"/><circle cx="1101.98" cy="168.95" r="6.2"/><circle cx="1102.33" cy="168.9" r="6.2"/><circle cx="1102.67" cy="168.85" r="6.2"/><circle cx="1103.02" cy="168.81" r="6.2"/><circle cx="1103.37" cy="168.76" r="6.2"/><circle cx="1103.72" cy="168.71" r="6.2"/><circle cx="1104.07" cy="168.67" r="6.2"/><circle cx="1104.42" cy="168.62" r="6.2"/><circle cx="1104.77" cy="168.57" r="6.2"/><circle cx="1105.13" cy="168.52" r="6.2"/><circle cx="1105.49" cy="168.48" r="6.2"/><circle cx="1105.85" cy="168.43" r="6.2"/><circle cx="1106.21" cy="168.38" r="6.2"/><circle cx="1106.58" cy="168.33" r="6.2"/><circle cx="1106.94" cy="168.24" r="6.2"/><circle cx="1107.31" cy="168.09" r="6.2"/><circle cx="1107.68" cy="167.95" r="6.2"/><circle cx="1108.05" cy="167.8" r="6.2"/><circle cx="1108.43" cy="167.65" r="6.2"/><circle cx="1108.8" cy="167.49" r="6.2"/><circle cx="1109.18" cy="167.34" r="6.2"/><circle cx="1109.56" cy="167.19" r="6.2"/><circle cx="1109.94" cy="167.04" r="6.2"/><circle cx="1110.33" cy="166.88" r="6.2"/><circle cx="1110.71" cy="166.73" r="6.2"/><circle cx="1111.1" cy="166.57" r="6.2"/><circle cx="1111.49" cy="166.41" r="6.2"/><circle cx="1111.89" cy="166.25" r="6.2"/><circle cx="1112.28" cy="166.09" r="6.2"/><circle cx="1112.68" cy="165.93" r="6.2"/><circle cx="1113.08" cy="165.77" r="6.2"/><circle cx="1113.49" cy="165.61" r="6.2"/><circle cx="1113.89" cy="165.45" r="6.2"/><circle cx="1114.3" cy="165.28" r="6.2"/><circle cx="1114.71" cy="165.12" r="6.2"/><circle cx="1115.13" cy="164.96" r="6.2"/><circle cx="1115.54" cy="164.81" r="6.2"/><circle cx="1115.96" cy="164.67" r="6.2"/><circle cx="1116.38" cy="164.53" r="6.2"/><circle cx="1116.81" cy="164.38" r="6.2"/><circle cx="1117.24" cy="164.24" r="6.2"/><circle cx="1117.67" cy="164.09" r="6.2"/><circle cx="1118.11" cy="163.94" r="6.2"/><circle cx="1118.54" cy="163.79" r="6.2"/><circle cx="1118.98" cy="163.64" r="6.2"/><circle cx="1119.43" cy="163.49" r="6.2"/><circle cx="1119.88" cy="163.33" r="6.2"/><circle cx="1120.33" cy="163.18" r="6.2"/><circle cx="1120.78" cy="163.03" r="6.2"/><circle cx="1121.24" cy="162.87" r="6.2"/><circle cx="1121.7" cy="162.71" r="6.2"/><circle cx="1122.17" cy="162.55" r="6.2"/><circle cx="1122.64" cy="162.39" r="6.2"/><circle cx="1123.11" cy="162.23" r="6.2"/><circle cx="1123.59" cy="162.07" r="6.2"/><circle cx="1124.07" cy="161.91" r="6.2"/><circle cx="1124.56" cy="161.75" r="6.2"/><circle cx="1125.05" cy="161.59" r="6.2"/><circle cx="1125.54" cy="161.43" r="6.2"/><circle cx="1126.04" cy="161.26" r="6.2"/><circle cx="1126.55" cy="161.1" r="6.2"/><circle cx="1127.06" cy="160.93" r="6.2"/><circle cx="1127.57" cy="160.76" r="6.2"/><circle cx="1128.09" cy="160.59" r="6.2"/><circle cx="1128.61" cy="160.42" r="6.2"/><circle cx="1129.14" cy="160.24" r="6.2"/><circle cx="1129.68" cy="160.07" r="6.2"/><circle cx="1130.22" cy="159.89" r="6.2"/><circle cx="1130.76" cy="159.71" r="6.2"/><circle cx="1131.31" cy="159.53" r="6.2"/><circle cx="1131.87" cy="159.36" r="6.2"/><circle cx="1132.43" cy="159.2" r="6.2"/><circle cx="1133" cy="159.03" r="6.2"/><circle cx="1133.58" cy="158.86" r="6.2"/><circle cx="1134.16" cy="158.69" r="6.2"/><circle cx="1134.75" cy="158.52" r="6.2"/><circle cx="1135.35" cy="158.34" r="6.2"/><circle cx="1135.96" cy="158.17" r="6.2"/><circle cx="1136.57" cy="157.99" r="6.2"/><circle cx="1137.19" cy="157.81" r="6.2"/><circle cx="1137.82" cy="157.62" r="6.2"/><circle cx="1138.45" cy="157.44" r="6.2"/><circle cx="1139.1" cy="157.25" r="6.2"/><circle cx="1139.75" cy="157.08" r="6.2"/><circle cx="1140.42" cy="157.02" r="6.2"/><circle cx="1141.09" cy="156.95" r="6.2"/><circle cx="1141.77" cy="156.89" r="6.2"/><circle cx="1142.47" cy="156.82" r="6.2"/><circle cx="1143.17" cy="156.75" r="6.2"/><circle cx="1143.89" cy="156.68" r="6.2"/><circle cx="1144.61" cy="156.6" r="6.2"/><circle cx="1145.35" cy="156.53" r="6.2"/><circle cx="1146.1" cy="156.46" r="6.2"/><circle cx="1146.87" cy="156.38" r="6.2"/><circle cx="1147.64" cy="156.31" r="6.2"/><circle cx="1148.44" cy="156.26" r="6.2"/><circle cx="1149.24" cy="156.22" r="6.2"/><circle cx="1150.07" cy="156.18" r="6.2"/><circle cx="1150.91" cy="156.14" r="6.2"/><circle cx="1151.76" cy="156.1" r="6.2"/><circle cx="1152.64" cy="156.06" r="6.2"/><circle cx="1153.53" cy="156.02" r="6.2"/><circle cx="1154.44" cy="155.97" r="6.2"/><circle cx="1155.37" cy="155.93" r="6.2"/><circle cx="1156.33" cy="155.75" r="6.2"/><circle cx="1157.31" cy="155.4" r="6.2"/><circle cx="1158.31" cy="155.05" r="6.2"/><circle cx="1159.34" cy="154.68" r="6.2"/><circle cx="1160.4" cy="154.31" r="6.2"/><circle cx="1161.48" cy="153.93" r="6.2"/><circle cx="1162.6" cy="153.53" r="6.2"/><circle cx="1163.75" cy="153.12" r="6.2"/><circle cx="1164.94" cy="152.81" r="6.2"/><circle cx="1166.17" cy="152.52" r="6.2"/><circle cx="1167.44" cy="152.23" r="6.2"/><circle cx="1168.75" cy="151.92" r="6.2"/><circle cx="1170.12" cy="151.61" r="6.2"/><circle cx="1171.54" cy="151.28" r="6.2"/><circle cx="1173.01" cy="151.04" r="6.2"/><circle cx="1174.55" cy="150.92" r="6.2"/><circle cx="1176.17" cy="150.79" r="6.2"/><circle cx="1177.86" cy="150.65" r="6.2"/><circle cx="1179.64" cy="150.5" r="6.2"/><circle cx="1181.52" cy="150.34" r="6.2"/><circle cx="1183.52" cy="150.17" r="6.2"/></g>
<g fill="none" stroke="#000" stroke-width="2.0"><circle cx="820.02" cy="310" r="6.0"/><circle cx="842.62" cy="310" r="6.0"/><circle cx="853.91" cy="310" r="6.0"/><circle cx="861.66" cy="310" r="6.0"/><circle cx="867.64" cy="310" r="6.0"/><circle cx="872.54" cy="310" r="6.0"/><circle cx="876.7" cy="310" r="6.0"/><circle cx="880.34" cy="310" r="6.0"/><circle cx="1185.65" cy="149.98" r="6.0"/><circle cx="1187.93" cy="149.78" r="6.0"/><circle cx="1190.38" cy="149.6" r="6.0"/><circle cx="1193.04" cy="149.6" r="6.0"/><circle cx="1195.96" cy="149.59" r="6.0"/><circle cx="1199.2" cy="149.59" r="6.0"/><circle cx="1202.84" cy="149.59" r="6.0"/><circle cx="1207" cy="149.58" r="6.0"/><circle cx="1211.9" cy="149.58" r="6.0"/><circle cx="1217.88" cy="149.57" r="6.0"/><circle cx="1225.63" cy="149.57" r="6.0"/><circle cx="1236.92" cy="149.56" r="6.0"/><circle cx="1259.52" cy="149.54" r="6.0"/></g>
<line x1="802.74" y1="253.0" x2="1256.25" y2="130.84" stroke="#808080" stroke-width="2" stroke-linecap="round" stroke-dasharray="2.67 8"/>
<text x="828.02" y="317" class="s" >467</text>
<text x="850.62" y="317" class="s" >468</text>
<text x="861.91" y="317" class="s" >469</text>
<rect x="130.74" y="610.84" width="474.32" height="186.26" fill="none" stroke="#000" stroke-width="2"/>
<path d="M159.53 797.1H580.46M159.53 797.1V813.04M229.69 797.1V813.04M299.84 797.1V813.04M370 797.1V813.04M440.15 797.1V813.04M510.3 797.1V813.04M580.46 797.1V813.04M130.74 639.11V790.53M114.8 790.53H130.74M114.8 752.67H130.74M114.8 714.82H130.74M114.8 676.96H130.74M114.8 639.11H130.74" fill="none" stroke="#000" stroke-width="2" stroke-linecap="round"/>
<text x="159.53" y="854.8" class="t" text-anchor="middle">41.5</text>
<text x="299.84" y="854.8" class="t" text-anchor="middle">42.5</text>
<text x="440.15" y="854.8" class="t" text-anchor="middle">43.5</text>
<text x="580.46" y="854.8" class="t" text-anchor="middle">44.5</text>
<text transform="translate(92.8,790.53) rotate(-90)" class="t" text-anchor="middle">0.0</text>
<text transform="translate(92.8,714.82) rotate(-90)" class="t" text-anchor="middle">1.0</text>
<text transform="translate(92.8,639.11) rotate(-90)" class="t" text-anchor="middle">2.0</text>
<text x="367.9" y="596.9" class="m" text-anchor="middle">Scale-Location</text>
<text x="367.9" y="918.8" class="t" text-anchor="middle">Fitted values</text>
<g><text transform="translate(29.3,698.9) rotate(-90)" class="t" text-anchor="middle">Standardized residuals</text><path d="M8.6 561.2H29M8.6 834.5H29" stroke="#000" stroke-width="1.8"/><polyline points="3.6,558.6 3.6,838.6 29.2,843.3 18.2,846.3 21.4,850.6" fill="none" stroke="#000" stroke-width="2"/></g>
<g fill="none" stroke="#000" stroke-width="2.6"><circle cx="148.1" cy="751.84" r="6.0"/><circle cx="167.1" cy="752.94" r="6.0"/><circle cx="178.25" cy="699.11" r="6.0"/><circle cx="200.25" cy="718.85" r="6.0"/><circle cx="202.5" cy="729.15" r="6.0"/><circle cx="199.4" cy="771.64" r="6.0"/><circle cx="203.1" cy="771.64" r="6.0"/><circle cx="217.5" cy="757.18" r="6.0"/><circle cx="208.4" cy="729.24" r="6.0"/><circle cx="225" cy="723.26" r="6.0"/><circle cx="230" cy="725.61" r="6.0"/><circle cx="236" cy="709.89" r="6.0"/><circle cx="239.75" cy="690.54" r="6.0"/><circle cx="228.75" cy="690.21" r="6.0"/><circle cx="238.1" cy="787.46" r="6.0"/><circle cx="247" cy="737.88" r="6.0"/><circle cx="246.6" cy="748.54" r="6.0"/><circle cx="253.75" cy="690.73" r="6.0"/><circle cx="272.75" cy="707.52" r="6.0"/><circle cx="279.4" cy="709.15" r="6.0"/><circle cx="302.5" cy="707.18" r="6.0"/><circle cx="314.75" cy="715.69" r="6.0"/><circle cx="344.4" cy="700.75" r="6.0"/><circle cx="354" cy="701.56" r="6.0"/><circle cx="340.6" cy="725.87" r="6.0"/><circle cx="348.75" cy="746.27" r="6.0"/><circle cx="347.5" cy="762.24" r="6.0"/><circle cx="292.5" cy="731.68" r="6.0"/><circle cx="243.75" cy="753.22" r="6.0"/><circle cx="263.1" cy="736.59" r="6.0"/><circle cx="263.1" cy="745.84" r="6.0"/><circle cx="271.9" cy="751.25" r="6.0"/><circle cx="268.1" cy="753.13" r="6.0"/><circle cx="283.75" cy="773.07" r="6.0"/><circle cx="281.25" cy="741.1" r="6.0"/><circle cx="284.4" cy="745.2" r="6.0"/><circle cx="292.5" cy="761.91" r="6.0"/><circle cx="298.75" cy="744.1" r="6.0"/><circle cx="306.25" cy="760.6" r="6.0"/><circle cx="305" cy="769.93" r="6.0"/><circle cx="318.75" cy="762.42" r="6.0"/><circle cx="323.75" cy="751.65" r="6.0"/><circle cx="331.25" cy="750.82" r="6.0"/><circle cx="343.75" cy="739.07" r="6.0"/><circle cx="353.75" cy="751.16" r="6.0"/><circle cx="356.9" cy="761.91" r="6.0"/><circle cx="253.75" cy="686.18" r="6.0"/><circle cx="290" cy="688.67" r="6.0"/><circle cx="293.75" cy="693.08" r="6.0"/><circle cx="301.25" cy="699.96" r="6.0"/><circle cx="361" cy="697.95" r="6.0"/><circle cx="379.1" cy="717.27" r="6.0"/><circle cx="377.75" cy="734.48" r="6.0"/><circle cx="391.9" cy="737.98" r="6.0"/><circle cx="371.9" cy="770.76" r="6.0"/><circle cx="379.4" cy="783.29" r="6.0"/><circle cx="390" cy="740.69" r="6.0"/><circle cx="387.5" cy="730.79" r="6.0"/><circle cx="390" cy="722.59" r="6.0"/><circle cx="376.9" cy="717.93" r="6.0"/><circle cx="376.25" cy="698.48" r="6.0"/><circle cx="403.75" cy="692.85" r="6.0"/><circle cx="409.4" cy="699.78" r="6.0"/><circle cx="419.4" cy="699.23" r="6.0"/><circle cx="418.75" cy="719.36" r="6.0"/><circle cx="411" cy="780" r="6.0"/><circle cx="406.9" cy="728.51" r="6.0"/><circle cx="421.25" cy="735.92" r="6.0"/><circle cx="426.9" cy="734.35" r="6.0"/><circle cx="425" cy="710.14" r="6.0"/><circle cx="450.6" cy="692.41" r="6.0"/><circle cx="458.1" cy="745.64" r="6.0"/><circle cx="457.5" cy="757.32" r="6.0"/><circle cx="456.25" cy="732.92" r="6.0"/><circle cx="474.1" cy="779.22" r="6.0"/><circle cx="495.9" cy="760.73" r="6.0"/><circle cx="507.5" cy="760.73" r="6.0"/><circle cx="501.25" cy="731.02" r="6.0"/><circle cx="500.5" cy="731.32" r="6.0"/><circle cx="540" cy="739.63" r="6.0"/><circle cx="569.75" cy="718.92" r="6.0"/><circle cx="587.25" cy="750.67" r="6.0"/><circle cx="326.9" cy="617.79" r="6.0"/></g>
<polyline points="147.4,733.5 159.75,733.54 172.47,733.57 185.34,733.6 198.13,733.63 210.63,733.67 222.62,733.72 233.88,733.8 244.2,733.9 253.58,734.05 262.24,734.25 270.26,734.47 277.73,734.71 284.73,734.94 291.33,735.15 297.63,735.31 303.7,735.4 309.46,735.43 314.8,735.42 319.76,735.37 324.36,735.29 328.65,735.18 332.66,735.06 336.43,734.93 340,734.8 343.13,734.67 345.7,734.54 347.88,734.41 349.86,734.26 351.81,734.08 353.92,733.86 356.35,733.61 359.3,733.3 362.81,732.88 366.75,732.32 370.98,731.69 375.38,731.04 379.83,730.43 384.2,729.91 388.36,729.55 392.2,729.4 395.63,729.49 398.72,729.79 401.62,730.24 404.44,730.79 407.3,731.38 410.33,731.96 413.66,732.49 417.4,732.9 421.46,733.21 425.67,733.46 430.08,733.69 434.7,733.89 439.58,734.08 444.75,734.29 450.25,734.53 456.1,734.8 462.32,735.09 468.88,735.35 475.76,735.63 482.93,735.92 490.37,736.25 498.06,736.65 505.98,737.12 514.1,737.7 522.55,738.39 531.39,739.2 540.53,740.09 549.88,741.03 559.36,742.01 568.86,743 578.31,743.97 587.6,744.9" fill="none" stroke="#D63A5C" stroke-width="2.0" stroke-linecap="round" stroke-linejoin="round"/>
<text x="334.4" y="622.3" class="s">467</text>
<text x="334.4" y="622.3" class="s">468</text>
<text x="334.4" y="622.3" class="s">469</text>
<rect x="802.74" y="610.84" width="474.32" height="186.26" fill="none" stroke="#000" stroke-width="2"/>
<path d="M820.16 797.1H1249.75M820.16 797.1V813.04M927.56 797.1V813.04M1034.96 797.1V813.04M1142.35 797.1V813.04M1249.75 797.1V813.04M802.74 623.38V794.66M786.8 623.38H802.74M786.8 666.2H802.74M786.8 709.02H802.74M786.8 751.84H802.74M786.8 794.66H802.74" fill="none" stroke="#000" stroke-width="2" stroke-linecap="round"/>
<text x="820.16" y="854.8" class="t" text-anchor="middle">0.000</text>
<text x="927.56" y="854.8" class="t" text-anchor="middle">0.002</text>
<text x="1034.96" y="854.8" class="t" text-anchor="middle">0.004</text>
<text x="1142.35" y="854.8" class="t" text-anchor="middle">0.006</text>
<text x="1249.75" y="854.8" class="t" text-anchor="middle">0.008</text>
<text transform="translate(764.8,623.38) rotate(-90)" class="t" text-anchor="middle">2</text>
<text transform="translate(764.8,666.2) rotate(-90)" class="t" text-anchor="middle">0</text>
<text transform="translate(764.8,709.02) rotate(-90)" class="t" text-anchor="middle">-2</text>
<text transform="translate(764.8,794.66) rotate(-90)" class="t" text-anchor="middle">-6</text>
<text x="1039.9" y="596.9" class="m" text-anchor="middle">Residuals vs Leverage</text>
<text x="1039.9" y="918.8" class="t" text-anchor="middle">Leverage</text>
<text transform="translate(700.8,705.3) rotate(-90)" class="t" text-anchor="middle">Standardized residuals</text>
<g fill="none" stroke="#000" stroke-width="2.6"><circle cx="1217.79" cy="660.76" r="6.0"/><circle cx="1162.14" cy="661.07" r="6.0"/><circle cx="1131.9" cy="635.16" r="6.0"/><circle cx="1077.47" cy="647.18" r="6.0"/><circle cx="1072.3" cy="652.3" r="6.0"/><circle cx="1079.45" cy="665" r="6.0"/><circle cx="1070.93" cy="665" r="6.0"/><circle cx="1039.67" cy="662.19" r="6.0"/><circle cx="1059.08" cy="680.26" r="6.0"/><circle cx="1024.58" cy="649.47" r="6.0"/><circle cx="1014.96" cy="650.63" r="6.0"/><circle cx="1003.89" cy="642.09" r="6.0"/><circle cx="997.24" cy="629.03" r="6.0"/><circle cx="1017.33" cy="703.81" r="6.0"/><circle cx="1000.14" cy="666.27" r="6.0"/><circle cx="984.95" cy="656.01" r="6.0"/><circle cx="985.61" cy="672.83" r="6.0"/><circle cx="974.19" cy="629.18" r="6.0"/><circle cx="947.42" cy="640.64" r="6.0"/><circle cx="939.28" cy="641.64" r="6.0"/><circle cx="915.95" cy="640.43" r="6.0"/><circle cx="906.68" cy="645.46" r="6.0"/><circle cx="893.21" cy="636.27" r="6.0"/><circle cx="891.56" cy="636.81" r="6.0"/><circle cx="894.23" cy="650.76" r="6.0"/><circle cx="892.3" cy="659.04" r="6.0"/><circle cx="892.53" cy="663.35" r="6.0"/><circle cx="925.11" cy="653.43" r="6.0"/><circle cx="990.37" cy="661.15" r="6.0"/><circle cx="960.37" cy="655.5" r="6.0"/><circle cx="960.37" cy="658.9" r="6.0"/><circle cx="948.51" cy="660.59" r="6.0"/><circle cx="953.5" cy="671.47" r="6.0"/><circle cx="934.3" cy="665.19" r="6.0"/><circle cx="937.13" cy="675.37" r="6.0"/><circle cx="933.58" cy="673.92" r="6.0"/><circle cx="925.11" cy="669.32" r="6.0"/><circle cx="919.21" cy="674.29" r="6.0"/><circle cx="912.88" cy="663" r="6.0"/><circle cx="913.88" cy="667.85" r="6.0"/><circle cx="904.13" cy="669.21" r="6.0"/><circle cx="901.26" cy="671.89" r="6.0"/><circle cx="897.62" cy="672.14" r="6.0"/><circle cx="893.37" cy="676.13" r="6.0"/><circle cx="891.58" cy="672.04" r="6.0"/><circle cx="891.32" cy="669.32" r="6.0"/><circle cx="974.19" cy="706.89" r="6.0"/><circle cx="927.62" cy="704.97" r="6.0"/><circle cx="923.88" cy="701.69" r="6.0"/><circle cx="917.01" cy="696.86" r="6.0"/><circle cx="891.19" cy="698.24" r="6.0"/><circle cx="893.5" cy="646.33" r="6.0"/><circle cx="893.17" cy="654.63" r="6.0"/><circle cx="897.99" cy="656.05" r="6.0"/><circle cx="892.02" cy="664.87" r="6.0"/><circle cx="893.58" cy="666.12" r="6.0"/><circle cx="897.17" cy="675.52" r="6.0"/><circle cx="896.18" cy="679.56" r="6.0"/><circle cx="897.17" cy="683.47" r="6.0"/><circle cx="892.97" cy="685.91" r="6.0"/><circle cx="892.83" cy="697.87" r="6.0"/><circle cx="904.24" cy="701.86" r="6.0"/><circle cx="907.93" cy="635.62" r="6.0"/><circle cx="915.59" cy="635.25" r="6.0"/><circle cx="915.05" cy="647.46" r="6.0"/><circle cx="909.06" cy="665.9" r="6.0"/><circle cx="906.24" cy="680.6" r="6.0"/><circle cx="917.17" cy="677.37" r="6.0"/><circle cx="922.28" cy="678.02" r="6.0"/><circle cx="920.51" cy="690.36" r="6.0"/><circle cx="948.74" cy="630.42" r="6.0"/><circle cx="958.8" cy="658.83" r="6.0"/><circle cx="957.96" cy="662.23" r="6.0"/><circle cx="956.24" cy="678.63" r="6.0"/><circle cx="982.96" cy="666.76" r="6.0"/><circle cx="1021.8" cy="663.03" r="6.0"/><circle cx="1045.26" cy="663.03" r="6.0"/><circle cx="1032.38" cy="679.46" r="6.0"/><circle cx="1030.88" cy="679.33" r="6.0"/><circle cx="1121.3" cy="656.69" r="6.0"/><circle cx="1204.22" cy="647.22" r="6.0"/><circle cx="1258.95" cy="660.42" r="6.0"/><circle cx="899.63" cy="777.72" r="6.0"/></g>
<polyline points="891.3,668.1 895.26,668.07 899.31,668.06 903.4,668.06 907.47,668.05 911.46,668.03 915.32,667.97 918.99,667.86 922.4,667.7 925.5,667.47 928.33,667.17 930.95,666.83 933.44,666.46 935.87,666.06 938.33,665.66 940.88,665.27 943.6,664.9 946.46,664.51 949.39,664.06 952.36,663.6 955.38,663.14 958.43,662.73 961.51,662.38 964.6,662.12 967.7,662 970.8,662.04 973.91,662.22 977.04,662.51 980.19,662.87 983.38,663.25 986.6,663.61 989.87,663.9 993.2,664.1 996.46,664.22 999.59,664.33 1002.7,664.41 1005.89,664.45 1009.25,664.45 1012.89,664.4 1016.9,664.28 1021.4,664.1 1026.16,663.83 1030.99,663.46 1036.05,663.03 1041.46,662.54 1047.37,662.04 1053.91,661.53 1061.25,661.04 1069.5,660.6 1078.86,660.2 1089.28,659.8 1100.54,659.42 1112.41,659.04 1124.67,658.67 1137.1,658.29 1149.49,657.9 1161.6,657.5 1173.6,657.09 1185.76,656.67 1198.04,656.25 1210.41,655.82 1222.82,655.39 1235.25,654.96 1247.66,654.53 1260,654.1" fill="none" stroke="#D63A5C" stroke-width="2.0" stroke-linecap="round" stroke-linejoin="round"/>
<line x1="802.74" y1="666.2" x2="1277.06" y2="666.2" stroke="#BEBEBE" stroke-width="2" stroke-linecap="round" stroke-dasharray="2.67 8"/>
<line x1="820.16" y1="610.84" x2="820.16" y2="797.1" stroke="#BEBEBE" stroke-width="2" stroke-linecap="round" stroke-dasharray="2.67 8"/>
<line x1="826.7" y1="779.4" x2="874.3" y2="779.4" stroke="#808080" stroke-width="2" stroke-linecap="round" stroke-dasharray="10.67 10.67"/>
<text x="880.8" y="788.9" class="t" fill="#808080">Cook's distance</text>
<text x="907.3" y="789.6" class="s">467</text>
<text x="907.3" y="789.6" class="s">468</text>
<text x="907.3" y="789.6" class="s">469</text>
</svg>
</body></html>
